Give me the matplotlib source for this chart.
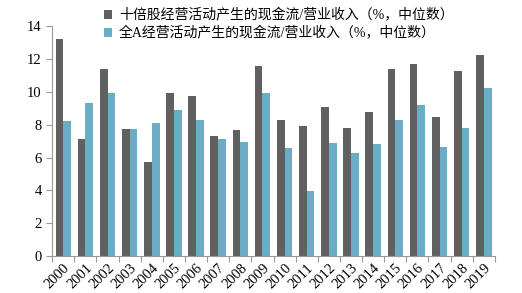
import numpy as np
import matplotlib
matplotlib.use("Agg")
from matplotlib import pyplot as plt

years = [str(y) for y in range(2000, 2020)]
tenbagger = [13.2, 7.1, 11.4, 7.75, 5.7, 9.9, 9.75, 7.3, 7.65, 11.6,
             8.3, 7.9, 9.05, 7.8, 8.75, 11.4, 11.7, 8.45, 11.25, 12.25]
all_a = [8.2, 9.3, 9.9, 7.75, 8.1, 8.9, 8.3, 7.15, 6.95, 9.9,
         6.6, 3.95, 6.9, 6.25, 6.8, 8.3, 9.2, 6.65, 7.8, 10.25]
labels = ["十倍股经营活动产生的现金流/营业收入（%，中位数）",
          "全A经营活动产生的现金流/营业收入（%，中位数）"]

plt.rcParams["font.family"] = ["Liberation Serif", "Noto Sans CJK SC"]

fig = plt.figure(figsize=(5.22, 2.93), dpi=100)
ax = fig.add_axes([0.1, 0.126, 0.848, 0.785])

x = np.arange(len(years))
w = 0.35
ax.bar(x - w / 2, tenbagger, w, color="#606060", label=labels[0])
ax.bar(x + w / 2, all_a, w, color="#6badc6", label=labels[1])

ax.set_xlim(-0.5, len(years) - 0.5)
ax.set_ylim(0, 14)
ax.set_yticks(range(0, 15, 2))
# group boundaries get the tick marks, group centres get the year labels
ax.set_xticks(np.arange(-0.5, len(years), 1))
ax.set_xticklabels([])
ax.set_xticks(x, minor=True)
ax.set_xticklabels(years, minor=True, rotation=45, ha="right",
                   rotation_mode="anchor", fontsize=10.5)
ax.tick_params(axis="x", which="minor", length=0, pad=4)
ax.tick_params(axis="x", which="major", length=4, direction="out",
               color="#999999")
ax.tick_params(axis="y", length=4, color="#999999", labelsize=10.5)

for s in ["top", "right"]:
    ax.spines[s].set_visible(False)
for s in ["left", "bottom"]:
    ax.spines[s].set_color("#999999")

fig.legend(loc="upper left", bbox_to_anchor=(0.175, 1.015),
           frameon=False, handlelength=0.6, handleheight=0.6,
           handletextpad=0.5, labelspacing=0.3,
           prop={"family": ["Liberation Serif", "Noto Sans CJK SC"],
                 "size": 10})

fig.savefig("out.png", dpi=100)
